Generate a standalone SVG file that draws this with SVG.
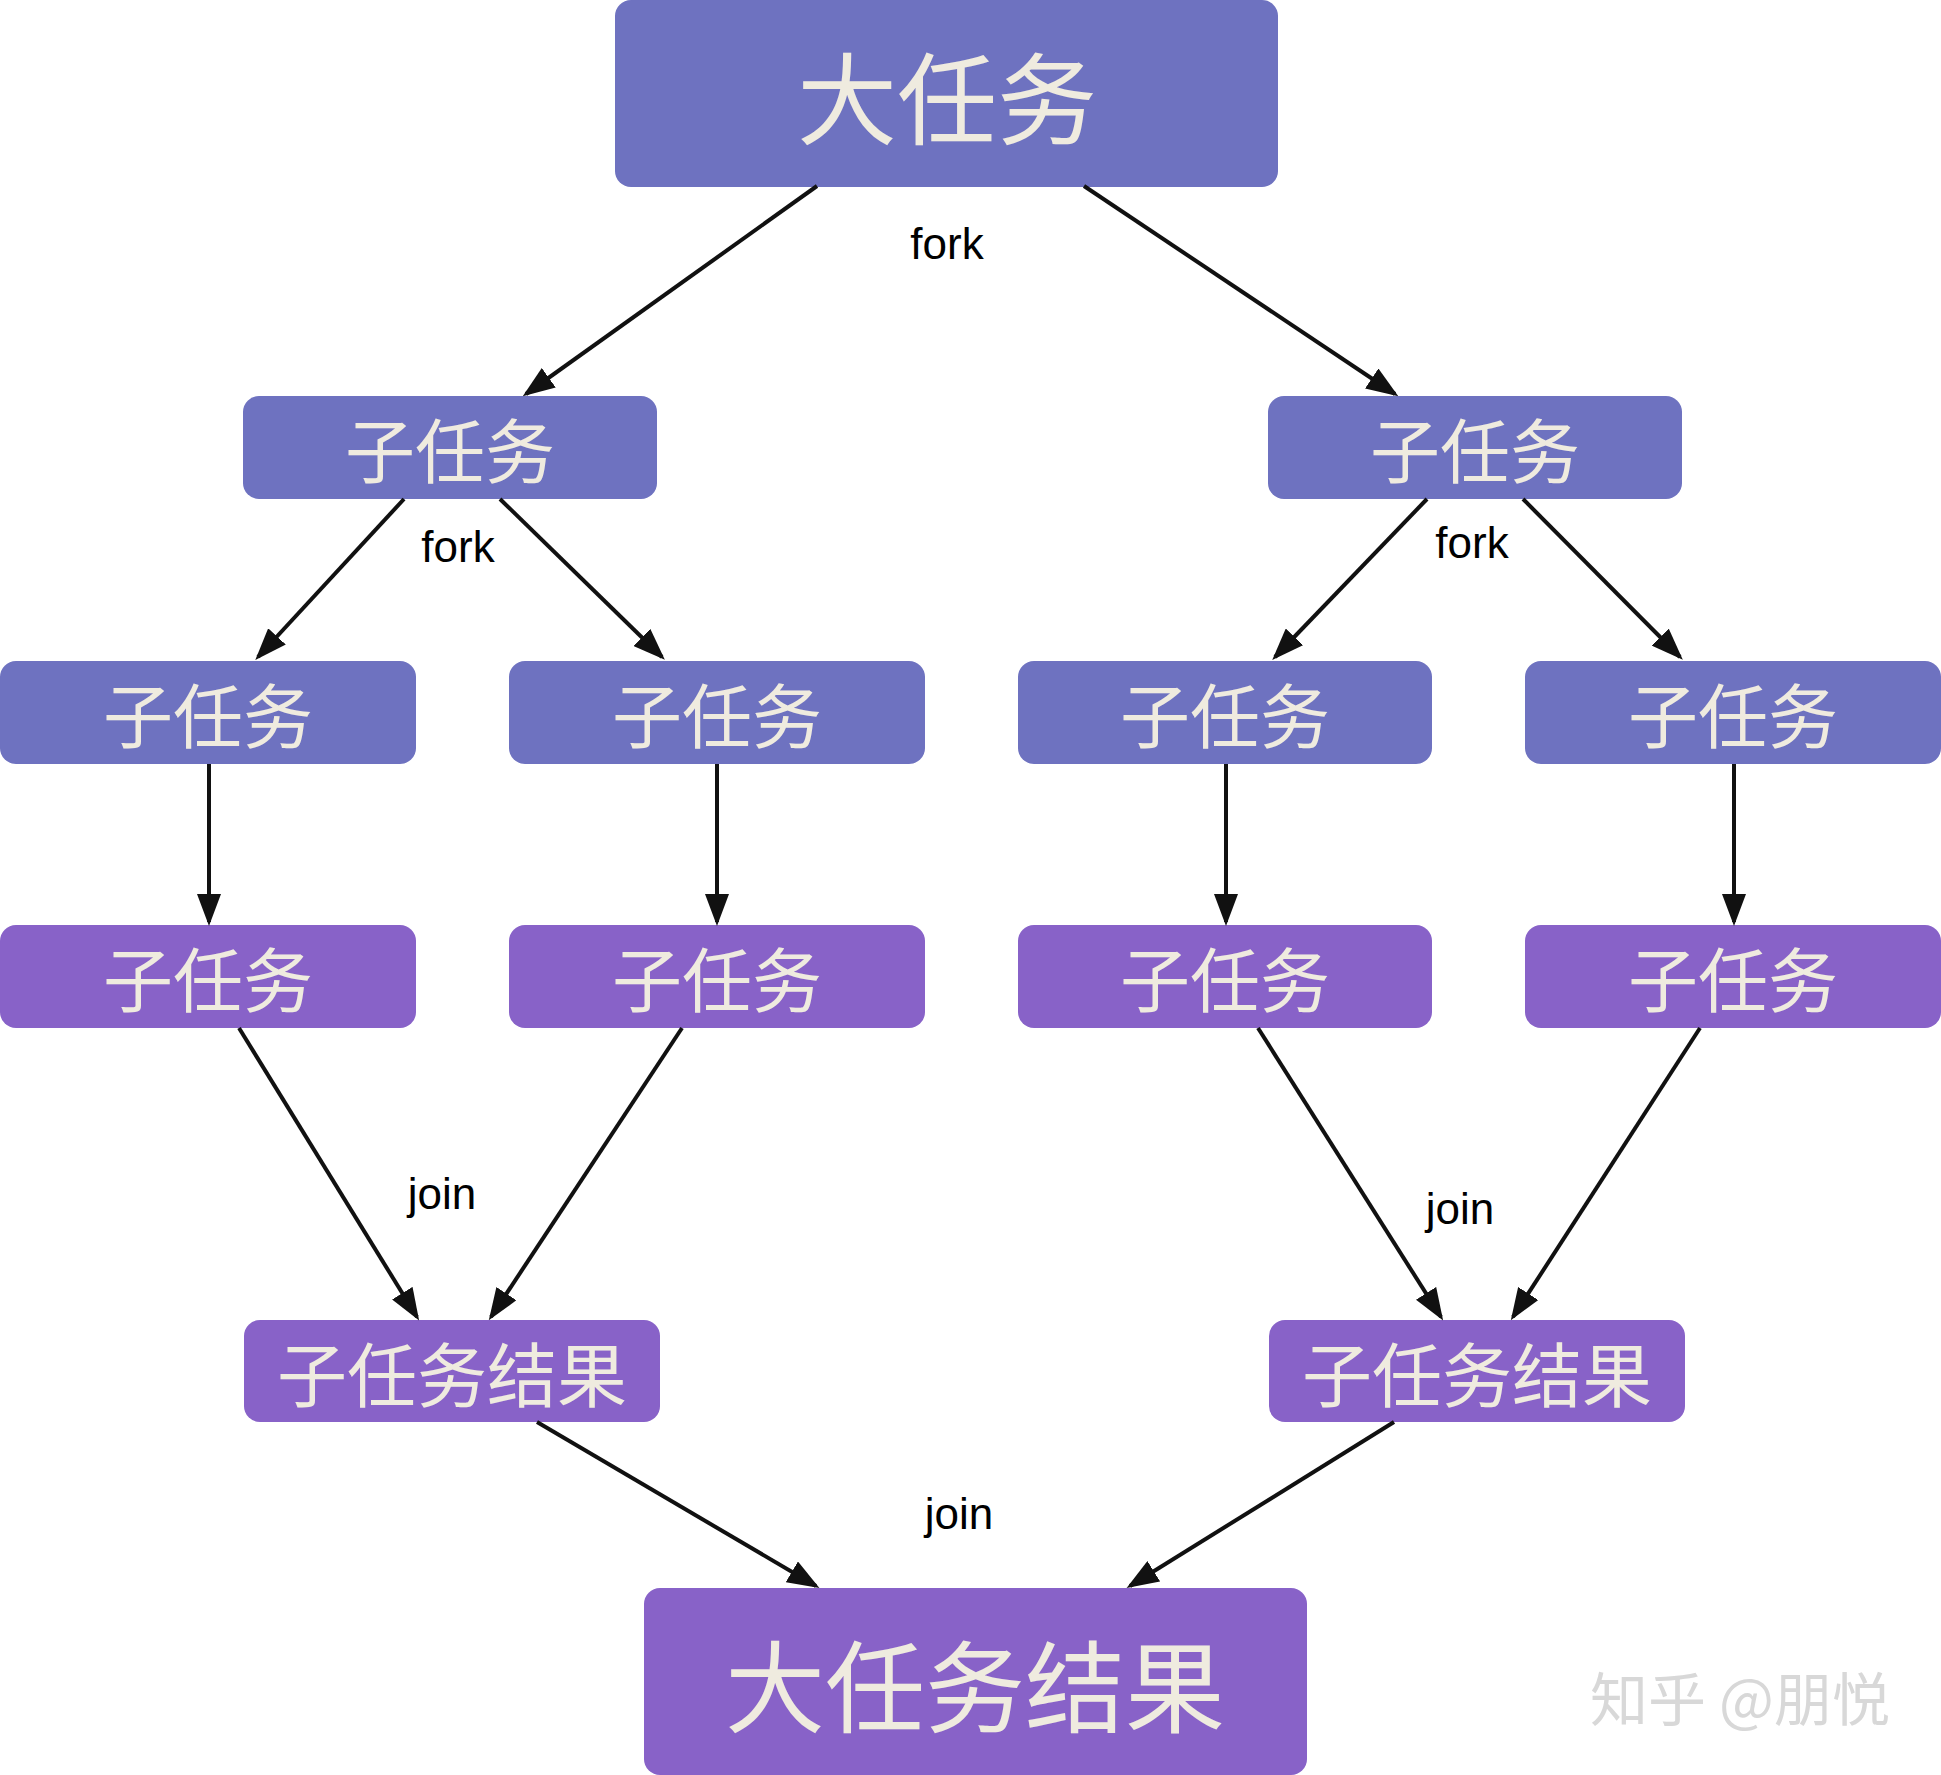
<svg xmlns="http://www.w3.org/2000/svg" width="1941" height="1775" viewBox="0 0 1941 1775">
<style>
.b{fill:#6e72c0}.p{fill:#8862c8}
.t{font-family:"Noto Sans CJK SC",sans-serif;fill:#efebdf;text-anchor:middle;dominant-baseline:central}
.s{font-size:70px}.L{font-size:100px}
.l{font-family:"Liberation Sans",sans-serif;font-size:44px;fill:#000;text-anchor:middle;dominant-baseline:central}
.c line{stroke:#111;stroke-width:4;marker-end:url(#a)}
</style>
<defs><marker id="a" markerWidth="8" markerHeight="6" refX="7" refY="3" orient="auto" markerUnits="strokeWidth"><path d="M0,0L8,3L0,6z" fill="#111"/></marker></defs>
<rect width="1941" height="1775" fill="#fff"/>
<g id="top"><rect class="b" x="615" y="0" width="663" height="187" rx="16"/><text class="t L" x="947" y="93">大任务</text></g>
<g id="s1"><rect class="b" x="243" y="396" width="414" height="103" rx="16"/><text class="t s" x="450" y="447">子任务</text></g>
<g id="s2"><rect class="b" x="1268" y="396" width="414" height="103" rx="16"/><text class="t s" x="1475" y="447">子任务</text></g>
<g id="s3"><rect class="b" x="0" y="661" width="416" height="103" rx="16"/><text class="t s" x="208" y="712">子任务</text></g>
<g id="s4"><rect class="b" x="509" y="661" width="416" height="103" rx="16"/><text class="t s" x="717" y="712">子任务</text></g>
<g id="s5"><rect class="b" x="1018" y="661" width="414" height="103" rx="16"/><text class="t s" x="1225" y="712">子任务</text></g>
<g id="s6"><rect class="b" x="1525" y="661" width="416" height="103" rx="16"/><text class="t s" x="1733" y="712">子任务</text></g>
<g id="p1"><rect class="p" x="0" y="925" width="416" height="103" rx="16"/><text class="t s" x="208" y="976">子任务</text></g>
<g id="p2"><rect class="p" x="509" y="925" width="416" height="103" rx="16"/><text class="t s" x="717" y="976">子任务</text></g>
<g id="p3"><rect class="p" x="1018" y="925" width="414" height="103" rx="16"/><text class="t s" x="1225" y="976">子任务</text></g>
<g id="p4"><rect class="p" x="1525" y="925" width="416" height="103" rx="16"/><text class="t s" x="1733" y="976">子任务</text></g>
<g id="r1"><rect class="p" x="244" y="1320" width="416" height="102" rx="16"/><text class="t s" x="452" y="1371">子任务结果</text></g>
<g id="r2"><rect class="p" x="1269" y="1320" width="416" height="102" rx="16"/><text class="t s" x="1477" y="1371">子任务结果</text></g>
<g id="bottom"><rect class="p" x="644" y="1588" width="663" height="187" rx="16"/><text class="t L" x="975" y="1681">大任务结果</text></g>
<g class="c" id="connectors">
<line x1="817" y1="186" x2="526" y2="394"/><line x1="1084" y1="186" x2="1395" y2="394"/>
<line x1="404" y1="499" x2="258" y2="657"/><line x1="500" y1="499" x2="662" y2="657"/>
<line x1="1427" y1="499" x2="1275" y2="657"/><line x1="1523" y1="499" x2="1680" y2="657"/>
<line x1="209" y1="764" x2="209" y2="922"/><line x1="717" y1="764" x2="717" y2="922"/>
<line x1="1226" y1="764" x2="1226" y2="922"/><line x1="1734" y1="764" x2="1734" y2="922"/>
<line x1="239" y1="1028" x2="417" y2="1317"/><line x1="682" y1="1028" x2="491" y2="1317"/>
<line x1="1258" y1="1028" x2="1441" y2="1317"/><line x1="1700" y1="1028" x2="1513" y2="1317"/>
<line x1="537" y1="1422" x2="816" y2="1586"/><line x1="1394" y1="1422" x2="1130" y2="1586"/>
</g>
<g id="labels">
<text class="l" x="947" y="243">fork</text><text class="l" x="458" y="546">fork</text><text class="l" x="1472" y="542">fork</text>
<text class="l" x="442" y="1193">join</text><text class="l" x="1460" y="1208">join</text><text class="l" x="959" y="1513">join</text>
</g>
<text x="1740" y="1696" font-family="Noto Sans CJK SC,sans-serif" font-size="58" fill="#d8d8d8" text-anchor="middle" dominant-baseline="central">知乎 @朋悦</text>
</svg>
